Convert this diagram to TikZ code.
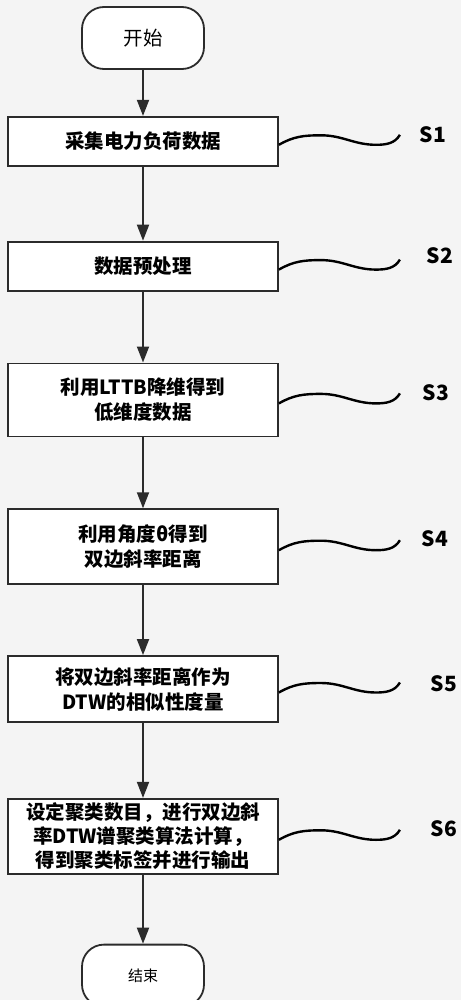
\documentclass[tikz,border=0pt]{standalone}
\usepackage{fontspec}
\newfontfamily\cjk{Noto Sans CJK SC}
\usetikzlibrary{arrows.meta,positioning}
\definecolor{ink}{HTML}{2B2B2B}
\definecolor{paper}{HTML}{F4F4F4}

\begin{document}
\begin{tikzpicture}[x=1pt,y=1pt,
  term/.style={draw=ink,line width=1.8pt,fill=white,rounded corners=22pt,
    minimum width=122pt,minimum height=62pt},
  box/.style={draw=ink,line width=1.8pt,fill=white,minimum width=270pt,
    align=center,font=\cjk\bfseries\fontsize{19.5}{25}\selectfont},
  arrow/.style={-{Triangle[length=16pt,width=12pt]},line width=1.8pt,ink},
  wave/.style={line width=2.4pt,black},
  tag/.style={font=\cjk\bfseries\fontsize{21}{22}\selectfont}]
\fill[paper] (0,0) rectangle (461,-1000);
\useasboundingbox (0,0) rectangle (461,-1000);
\node[term,font=\cjk\fontsize{19.5}{24}\selectfont] (start) at (143,-38) {开始};
\node[box,minimum height=49pt,below=46pt of start] (collect) {采集电力负荷数据};
\node[box,minimum height=49pt,below=74pt of collect] (prep) {数据预处理};
\node[box,minimum height=73pt,below=71pt of prep] (lttb) {利用LTTB降维得到\\低维度数据};
\node[box,minimum height=75pt,below=71pt of lttb] (angle) {利用角度θ得到\\双边斜率距离};
\node[box,minimum height=66pt,below=70pt of angle] (dtw) {将双边斜率距离作为\\DTW的相似性度量};
\node[box,minimum height=75pt,inner sep=1pt,below=75pt of dtw,
  font=\cjk\bfseries\fontsize{19.5}{24}\selectfont] (clus)
  {设定聚类数目，进行双边斜\\率DTW谱聚类算法计算，\\得到聚类标签并进行输出};
\node[term,font=\cjk\fontsize{15}{18}\selectfont,below=69pt of clus] (stop) {结束};
\draw[arrow] (start)--(collect);
\draw[arrow] (collect)--(prep);
\draw[arrow] (prep)--(lttb);
\draw[arrow] (lttb)--(angle);
\draw[arrow] (angle)--(dtw);
\draw[arrow] (dtw)--(clus);
\draw[arrow] (clus)--(stop);
\foreach \s/\n/\dx/\dy in {collect/1/154/7,prep/2/161/10,lttb/3/157/7,
    angle/4/156/8,dtw/5/165/5,clus/6/165/8}{
  \node[tag] (tag\n) at ([xshift=\dx pt,yshift=\dy pt]\s.east) {S\n};
  \draw[wave] ([yshift=-3.5pt]\s.east) to[out=30,in=180] ++(42,9.5)
    to[out=0,in=180] ++(55,-9.5) to[out=0,in=240] ++(24,10);
}
\end{tikzpicture}
\end{document}
